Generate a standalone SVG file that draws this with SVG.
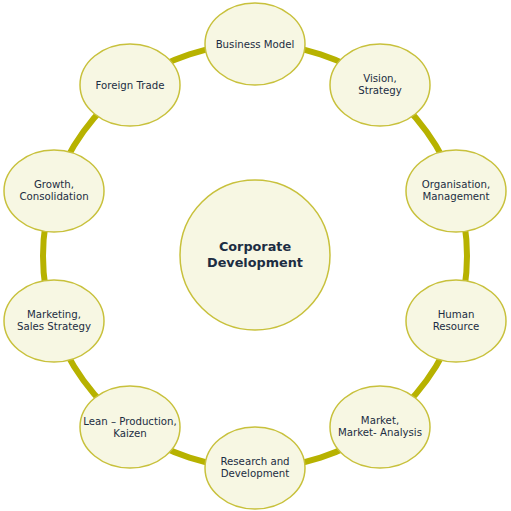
<svg xmlns="http://www.w3.org/2000/svg" width="511" height="511" viewBox="0 0 511 511">
<style>
.arc{fill:none;stroke:#b7b200;stroke-width:6}
.node{fill:#f7f7e3;stroke:#c8c13c;stroke-width:1.5}
.t{font-family:"DejaVu Sans",Verdana,sans-serif;font-size:10.2px;fill:#1c2d42;text-anchor:middle}
.c{font-family:"DejaVu Sans",Verdana,sans-serif;font-size:12.8px;font-weight:bold;fill:#1c2d42;text-anchor:middle}
</style>
<rect width="511" height="511" fill="#ffffff"/>
<g id="connectors">
<path class="arc" d="M255,44 A212,212 0 0 1 379.61,84.49"/>
<path class="arc" d="M379.61,84.49 A212,212 0 0 1 456.62,190.49"/>
<path class="arc" d="M456.62,190.49 A212,212 0 0 1 456.62,321.51"/>
<path class="arc" d="M456.62,321.51 A212,212 0 0 1 379.61,427.51"/>
<path class="arc" d="M379.61,427.51 A212,212 0 0 1 255,468"/>
<path class="arc" d="M255,468 A212,212 0 0 1 130.39,427.51"/>
<path class="arc" d="M130.39,427.51 A212,212 0 0 1 53.38,321.51"/>
<path class="arc" d="M53.38,321.51 A212,212 0 0 1 53.38,190.49"/>
<path class="arc" d="M53.38,190.49 A212,212 0 0 1 130.39,84.49"/>
<path class="arc" d="M130.39,84.49 A212,212 0 0 1 255,44"/>
</g>
<g id="center">
<circle class="node" cx="255" cy="255" r="75"/>
<text class="c" x="255" y="251">Corporate</text>
<text class="c" x="255" y="267">Development</text>
</g>
<g id="business-model">
<ellipse class="node" cx="255" cy="44" rx="50" ry="41"/>
<text class="t" x="255" y="47.5">Business Model</text>
</g>
<g id="vision-strategy">
<ellipse class="node" cx="380" cy="85" rx="50" ry="41"/>
<text class="t" x="380" y="82">Vision,</text>
<text class="t" x="380" y="94">Strategy</text>
</g>
<g id="organisation-management">
<ellipse class="node" cx="456" cy="191" rx="50" ry="41"/>
<text class="t" x="456" y="188">Organisation,</text>
<text class="t" x="456" y="200">Management</text>
</g>
<g id="human-resource">
<ellipse class="node" cx="456" cy="321" rx="50" ry="41"/>
<text class="t" x="456" y="318">Human</text>
<text class="t" x="456" y="330">Resource</text>
</g>
<g id="market-analysis">
<ellipse class="node" cx="380" cy="427" rx="50" ry="41"/>
<text class="t" x="380" y="424">Market,</text>
<text class="t" x="380" y="436">Market- Analysis</text>
</g>
<g id="research-development">
<ellipse class="node" cx="255" cy="468" rx="50" ry="41"/>
<text class="t" x="255" y="465">Research and</text>
<text class="t" x="255" y="477">Development</text>
</g>
<g id="lean-production">
<ellipse class="node" cx="130" cy="427" rx="50" ry="41"/>
<text class="t" x="130" y="424.5">Lean – Production,</text>
<text class="t" x="130" y="436.5">Kaizen</text>
</g>
<g id="marketing-sales">
<ellipse class="node" cx="54" cy="321" rx="50" ry="41"/>
<text class="t" x="54" y="318">Marketing,</text>
<text class="t" x="54" y="330">Sales Strategy</text>
</g>
<g id="growth-consolidation">
<ellipse class="node" cx="54" cy="191" rx="50" ry="41"/>
<text class="t" x="54" y="188">Growth,</text>
<text class="t" x="54" y="200">Consolidation</text>
</g>
<g id="foreign-trade">
<ellipse class="node" cx="130" cy="85" rx="50" ry="41"/>
<text class="t" x="130" y="88.5">Foreign Trade</text>
</g>
</svg>
